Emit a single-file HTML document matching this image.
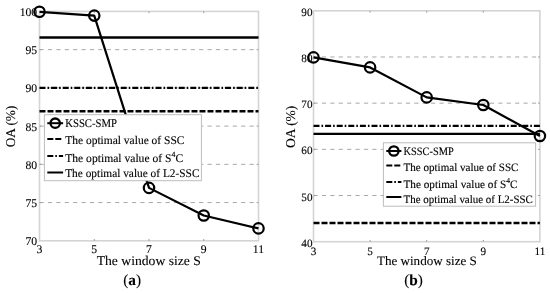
<!DOCTYPE html>
<html><head><meta charset="utf-8"><style>
html,body{margin:0;padding:0;background:#fff;}
body{width:550px;height:293px;overflow:hidden;}
svg{display:block;filter:blur(0.3px);}
text{font-family:"Liberation Serif", "DejaVu Serif", serif;fill:#000;text-rendering:geometricPrecision;stroke:#000;stroke-width:0.08px;}
text.lg{stroke-width:0.12px;}
text.tk{stroke-width:0.1px;}
</style></head><body>
<svg width="550" height="293" viewBox="0 0 550 293">
<rect width="550" height="293" fill="#fff"/>
<line x1="39.5" y1="202.57" x2="258.5" y2="202.57" stroke="#a8a8a8" stroke-width="1" stroke-dasharray="4.2 4.2"/>
<line x1="39.5" y1="164.33" x2="258.5" y2="164.33" stroke="#a8a8a8" stroke-width="1" stroke-dasharray="4.2 4.2"/>
<line x1="39.5" y1="126.1" x2="258.5" y2="126.1" stroke="#a8a8a8" stroke-width="1" stroke-dasharray="4.2 4.2"/>
<line x1="39.5" y1="87.87" x2="258.5" y2="87.87" stroke="#a8a8a8" stroke-width="1" stroke-dasharray="4.2 4.2"/>
<line x1="39.5" y1="49.63" x2="258.5" y2="49.63" stroke="#a8a8a8" stroke-width="1" stroke-dasharray="4.2 4.2"/>
<rect x="39.5" y="11.4" width="219" height="229.4" fill="none" stroke="#d4d4d4" stroke-width="1.6"/>
<line x1="94.25" y1="240.8" x2="94.25" y2="239" stroke="#999" stroke-width="1"/>
<line x1="94.25" y1="11.4" x2="94.25" y2="13.2" stroke="#999" stroke-width="1"/>
<line x1="149" y1="240.8" x2="149" y2="239" stroke="#999" stroke-width="1"/>
<line x1="149" y1="11.4" x2="149" y2="13.2" stroke="#999" stroke-width="1"/>
<line x1="203.75" y1="240.8" x2="203.75" y2="239" stroke="#999" stroke-width="1"/>
<line x1="203.75" y1="11.4" x2="203.75" y2="13.2" stroke="#999" stroke-width="1"/>
<line x1="39.5" y1="202.57" x2="41.3" y2="202.57" stroke="#999" stroke-width="1"/>
<line x1="258.5" y1="202.57" x2="256.7" y2="202.57" stroke="#999" stroke-width="1"/>
<line x1="39.5" y1="164.33" x2="41.3" y2="164.33" stroke="#999" stroke-width="1"/>
<line x1="258.5" y1="164.33" x2="256.7" y2="164.33" stroke="#999" stroke-width="1"/>
<line x1="39.5" y1="126.1" x2="41.3" y2="126.1" stroke="#999" stroke-width="1"/>
<line x1="258.5" y1="126.1" x2="256.7" y2="126.1" stroke="#999" stroke-width="1"/>
<line x1="39.5" y1="87.87" x2="41.3" y2="87.87" stroke="#999" stroke-width="1"/>
<line x1="258.5" y1="87.87" x2="256.7" y2="87.87" stroke="#999" stroke-width="1"/>
<line x1="39.5" y1="49.63" x2="41.3" y2="49.63" stroke="#999" stroke-width="1"/>
<line x1="258.5" y1="49.63" x2="256.7" y2="49.63" stroke="#999" stroke-width="1"/>
<line x1="39.5" y1="111.27" x2="258.5" y2="111.27" stroke="#000" stroke-width="2.3" stroke-dasharray="6 2"/>
<line x1="39.5" y1="87.87" x2="258.5" y2="87.87" stroke="#000" stroke-width="2.3" stroke-dasharray="6 2 1.6 2"/>
<line x1="39.5" y1="37.48" x2="258.5" y2="37.48" stroke="#000" stroke-width="2.3"/>
<polyline points="39.5,11.78 94.25,15.61 149,187.89 203.75,215.49 258.5,228.41" fill="none" stroke="#000" stroke-width="2.2" stroke-linejoin="round"/>
<rect x="44.4" y="114.7" width="157" height="66" fill="#fff" stroke="#bdbdbd" stroke-width="1"/>
<line x1="47.3" y1="123.2" x2="63.1" y2="123.2" stroke="#000" stroke-width="2"/>
<circle cx="55.2" cy="123.2" r="4.7" fill="none" stroke="#000" stroke-width="2.3"/>
<text class="lg" x="65.2" y="127.3" font-size="11.7" textLength="51.8" lengthAdjust="spacingAndGlyphs">KSSC-SMP</text>
<line x1="47.3" y1="138.9" x2="63.1" y2="138.9" stroke="#000" stroke-width="2" stroke-dasharray="6 2"/>
<text class="lg" x="65.2" y="143.6" font-size="11.7" textLength="119.3" lengthAdjust="spacingAndGlyphs">The optimal value of SSC</text>
<line x1="47.3" y1="155.9" x2="63.1" y2="155.9" stroke="#000" stroke-width="2" stroke-dasharray="6 2 1.6 2"/>
<text class="lg" x="65.2" y="162" font-size="11.7" textLength="118" lengthAdjust="spacingAndGlyphs">The optimal value of S<tspan font-size="7.96" dy="-5.2">4</tspan><tspan dy="5.2">C</tspan></text>
<line x1="47.3" y1="172.5" x2="63.1" y2="172.5" stroke="#000" stroke-width="2"/>
<text class="lg" x="65.2" y="176.9" font-size="11.7" textLength="134.3" lengthAdjust="spacingAndGlyphs">The optimal value of L2-SSC</text>
<circle cx="39.5" cy="11.78" r="5.2" fill="none" stroke="#000" stroke-width="2.2"/>
<circle cx="94.25" cy="15.61" r="5.2" fill="none" stroke="#000" stroke-width="2.2"/>
<circle cx="149" cy="187.89" r="5.2" fill="none" stroke="#000" stroke-width="2.2"/>
<circle cx="203.75" cy="215.49" r="5.2" fill="none" stroke="#000" stroke-width="2.2"/>
<circle cx="258.5" cy="228.41" r="5.2" fill="none" stroke="#000" stroke-width="2.2"/>
<text class="tk" x="37.2" y="245.4" font-size="11.7" text-anchor="end">70</text>
<text class="tk" x="37.2" y="207.17" font-size="11.7" text-anchor="end">75</text>
<text class="tk" x="37.2" y="168.93" font-size="11.7" text-anchor="end">80</text>
<text class="tk" x="37.2" y="130.7" font-size="11.7" text-anchor="end">85</text>
<text class="tk" x="37.2" y="92.47" font-size="11.7" text-anchor="end">90</text>
<text class="tk" x="37.2" y="54.23" font-size="11.7" text-anchor="end">95</text>
<text class="tk" x="37.2" y="16" font-size="11.7" text-anchor="end">100</text>
<text x="39.5" y="253.2" font-size="11.7" text-anchor="middle" class="tk">3</text>
<text x="94.25" y="253.2" font-size="11.7" text-anchor="middle" class="tk">5</text>
<text x="149" y="253.2" font-size="11.7" text-anchor="middle" class="tk">7</text>
<text x="203.75" y="253.2" font-size="11.7" text-anchor="middle" class="tk">9</text>
<text x="258.5" y="253.2" font-size="11.7" text-anchor="middle" class="tk">11</text>
<text x="96.7" y="264.9" font-size="13.2" textLength="104.2" lengthAdjust="spacingAndGlyphs">The window size S</text>
<text class="tk" transform="translate(15.2,126.5) rotate(-90)" x="0" y="0" font-size="13.4" text-anchor="middle" textLength="41.7" lengthAdjust="spacingAndGlyphs">OA (%)</text>
<text class="tk" x="132.15" y="285.3" font-size="15.3" text-anchor="middle">(<tspan font-weight="bold">a</tspan>)</text>
<line x1="313.5" y1="195.52" x2="539.9" y2="195.52" stroke="#a8a8a8" stroke-width="1" stroke-dasharray="4.2 4.2"/>
<line x1="313.5" y1="149.34" x2="539.9" y2="149.34" stroke="#a8a8a8" stroke-width="1" stroke-dasharray="4.2 4.2"/>
<line x1="313.5" y1="103.16" x2="539.9" y2="103.16" stroke="#a8a8a8" stroke-width="1" stroke-dasharray="4.2 4.2"/>
<line x1="313.5" y1="56.98" x2="539.9" y2="56.98" stroke="#a8a8a8" stroke-width="1" stroke-dasharray="4.2 4.2"/>
<rect x="313.5" y="10.8" width="226.4" height="230.9" fill="none" stroke="#d4d4d4" stroke-width="1.6"/>
<line x1="370.1" y1="241.7" x2="370.1" y2="239.9" stroke="#999" stroke-width="1"/>
<line x1="370.1" y1="10.8" x2="370.1" y2="12.6" stroke="#999" stroke-width="1"/>
<line x1="426.7" y1="241.7" x2="426.7" y2="239.9" stroke="#999" stroke-width="1"/>
<line x1="426.7" y1="10.8" x2="426.7" y2="12.6" stroke="#999" stroke-width="1"/>
<line x1="483.3" y1="241.7" x2="483.3" y2="239.9" stroke="#999" stroke-width="1"/>
<line x1="483.3" y1="10.8" x2="483.3" y2="12.6" stroke="#999" stroke-width="1"/>
<line x1="313.5" y1="195.52" x2="315.3" y2="195.52" stroke="#999" stroke-width="1"/>
<line x1="539.9" y1="195.52" x2="538.1" y2="195.52" stroke="#999" stroke-width="1"/>
<line x1="313.5" y1="149.34" x2="315.3" y2="149.34" stroke="#999" stroke-width="1"/>
<line x1="539.9" y1="149.34" x2="538.1" y2="149.34" stroke="#999" stroke-width="1"/>
<line x1="313.5" y1="103.16" x2="315.3" y2="103.16" stroke="#999" stroke-width="1"/>
<line x1="539.9" y1="103.16" x2="538.1" y2="103.16" stroke="#999" stroke-width="1"/>
<line x1="313.5" y1="56.98" x2="315.3" y2="56.98" stroke="#999" stroke-width="1"/>
<line x1="539.9" y1="56.98" x2="538.1" y2="56.98" stroke="#999" stroke-width="1"/>
<line x1="313.5" y1="223" x2="539.9" y2="223" stroke="#000" stroke-width="2.3" stroke-dasharray="6 2"/>
<line x1="313.5" y1="125.79" x2="539.9" y2="125.79" stroke="#000" stroke-width="2.3" stroke-dasharray="6 2 1.6 2"/>
<line x1="313.5" y1="133.92" x2="539.9" y2="133.92" stroke="#000" stroke-width="2.3"/>
<polyline points="313.5,57.4 370.1,67.42 426.7,97.39 483.3,105.01 539.9,135.99" fill="none" stroke="#000" stroke-width="2.2" stroke-linejoin="round"/>
<rect x="383.4" y="142.8" width="152.2" height="63.4" fill="#fff" stroke="#bdbdbd" stroke-width="1"/>
<line x1="386.3" y1="151" x2="401.4" y2="151" stroke="#000" stroke-width="2"/>
<circle cx="393.85" cy="151" r="4.7" fill="none" stroke="#000" stroke-width="2.3"/>
<text class="lg" x="403.5" y="155.4" font-size="11.3" textLength="50.3" lengthAdjust="spacingAndGlyphs">KSSC-SMP</text>
<line x1="386.3" y1="165.6" x2="401.4" y2="165.6" stroke="#000" stroke-width="2" stroke-dasharray="6 2"/>
<text class="lg" x="403.5" y="170.6" font-size="11.3" textLength="115" lengthAdjust="spacingAndGlyphs">The optimal value of SSC</text>
<line x1="386.3" y1="182" x2="401.4" y2="182" stroke="#000" stroke-width="2" stroke-dasharray="6 2 1.6 2"/>
<text class="lg" x="403.5" y="188" font-size="11.3" textLength="114" lengthAdjust="spacingAndGlyphs">The optimal value of S<tspan font-size="7.68" dy="-5.2">4</tspan><tspan dy="5.2">C</tspan></text>
<line x1="386.3" y1="197" x2="401.4" y2="197" stroke="#000" stroke-width="2"/>
<text class="lg" x="403.5" y="202.6" font-size="11.3" textLength="129.4" lengthAdjust="spacingAndGlyphs">The optimal value of L2-SSC</text>
<circle cx="313.5" cy="57.4" r="5.2" fill="none" stroke="#000" stroke-width="2.2"/>
<circle cx="370.1" cy="67.42" r="5.2" fill="none" stroke="#000" stroke-width="2.2"/>
<circle cx="426.7" cy="97.39" r="5.2" fill="none" stroke="#000" stroke-width="2.2"/>
<circle cx="483.3" cy="105.01" r="5.2" fill="none" stroke="#000" stroke-width="2.2"/>
<circle cx="539.9" cy="135.99" r="5.2" fill="none" stroke="#000" stroke-width="2.2"/>
<text class="tk" x="312.5" y="246.7" font-size="11.2" text-anchor="end">40</text>
<text class="tk" x="312.5" y="200.52" font-size="11.2" text-anchor="end">50</text>
<text class="tk" x="312.5" y="154.34" font-size="11.2" text-anchor="end">60</text>
<text class="tk" x="312.5" y="108.16" font-size="11.2" text-anchor="end">70</text>
<text class="tk" x="312.5" y="61.98" font-size="11.2" text-anchor="end">80</text>
<text class="tk" x="312.5" y="15.8" font-size="11.2" text-anchor="end">90</text>
<text x="313.5" y="254.6" font-size="11.2" text-anchor="middle" class="tk">3</text>
<text x="370.1" y="254.6" font-size="11.2" text-anchor="middle" class="tk">5</text>
<text x="426.7" y="254.6" font-size="11.2" text-anchor="middle" class="tk">7</text>
<text x="483.3" y="254.6" font-size="11.2" text-anchor="middle" class="tk">9</text>
<text x="539.9" y="254.6" font-size="11.2" text-anchor="middle" class="tk">11</text>
<text x="376.9" y="265.3" font-size="12.9" textLength="100" lengthAdjust="spacingAndGlyphs">The window size S</text>
<text class="tk" transform="translate(295.2,126.8) rotate(-90)" x="0" y="0" font-size="13.4" text-anchor="middle" textLength="42.2" lengthAdjust="spacingAndGlyphs">OA (%)</text>
<text class="tk" x="413.6" y="285.3" font-size="15.3" text-anchor="middle">(<tspan font-weight="bold">b</tspan>)</text>
</svg>
</body></html>
